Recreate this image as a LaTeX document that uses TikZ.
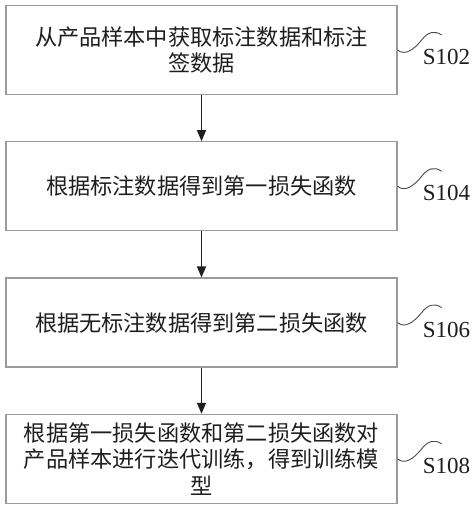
\documentclass[tikz,border=0pt]{standalone}
\usepackage{fontspec}
\setmainfont{Liberation Serif}
\newfontfamily\cjk{Noto Sans CJK SC}
\usetikzlibrary{arrows.meta,positioning,calc}
\definecolor{ink}{HTML}{1E1E1E}
\definecolor{rim}{HTML}{9A9A9A}
\tikzset{stepbox/.style={rectangle,draw=rim,line width=1.3pt,minimum width=391pt,
    minimum height=89pt,align=center,text=ink,inner sep=2pt,
    font=\cjk\fontsize{22.2}{26.5}\selectfont},
  steplab/.style={anchor=west,inner sep=0pt,text=ink,font=\fontsize{23}{25}\selectfont},
  flow/.style={line width=1.3pt,draw=ink,-{Triangle[length=11pt,width=9pt]}},
  wig/.style={line width=0.9pt,draw=ink!80}}

\begin{document}
\begin{tikzpicture}[x=1pt,y=-1pt]
\useasboundingbox (0,0) rectangle (474,507);
\node[stepbox] (s1) at (201.5,50) {从产品样本中获取标注数据和标注\\签数据};
\node[stepbox,below=46pt of s1] (s2) {根据标注数据得到第一损失函数};
\node[stepbox,below=46pt of s2] (s3) {根据无标注数据得到第二损失函数};
\node[stepbox,below=46pt of s3] (s4) {根据第一损失函数和第二损失函数对\\产品样本进行迭代训练，得到训练模\\型};

\draw[flow] (s1) -- (s2);
\draw[flow] (s2) -- (s3);
\draw[flow] (s3) -- (s4);

\foreach \i/\q in {1/S102,2/S104,3/S106,4/S108}{
 \node[steplab] (l\i) at ($(s\i.east)+(25,7)$) {\q};
 \draw[wig] (s\i.east) .. controls +(7,6) and +(-8,10) .. ++(24,-10)
   .. controls +(6,-8) and +(-7,-5) .. ++(20,-5);}
\end{tikzpicture}
\end{document}
